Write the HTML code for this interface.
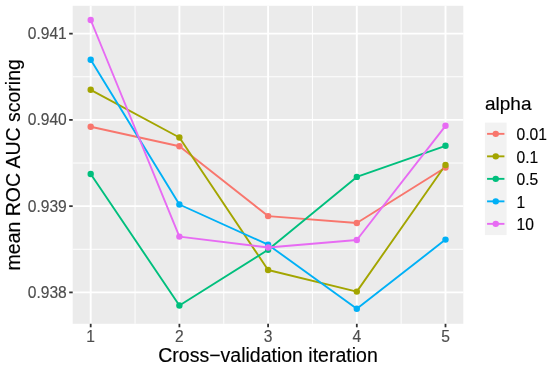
<!DOCTYPE html>
<html><head><meta charset="utf-8"><title>ROC AUC plot</title>
<style>
html,body{margin:0;padding:0;background:#fff;}
svg{display:block;}
text{font-family:"Liberation Sans",Arial,Helvetica,sans-serif;}
</style></head><body>
<svg width="550" height="369" viewBox="0 0 550 369">
<rect x="0" y="0" width="550" height="369" fill="#FFFFFF"/>
<rect x="72.7" y="5.8" width="390.6" height="318" fill="#EBEBEB"/>
<g stroke="#FFFFFF" stroke-width="0.95" fill="none">
<line x1="72.7" y1="76.78" x2="463.3" y2="76.78"/>
<line x1="72.7" y1="163.03" x2="463.3" y2="163.03"/>
<line x1="72.7" y1="249.28" x2="463.3" y2="249.28"/>
<line x1="135.05" y1="5.8" x2="135.05" y2="323.8"/>
<line x1="223.75" y1="5.8" x2="223.75" y2="323.8"/>
<line x1="312.45" y1="5.8" x2="312.45" y2="323.8"/>
<line x1="401.15" y1="5.8" x2="401.15" y2="323.8"/>
</g>
<g stroke="#FFFFFF" stroke-width="1.9" fill="none">
<line x1="72.7" y1="33.65" x2="463.3" y2="33.65"/>
<line x1="72.7" y1="119.9" x2="463.3" y2="119.9"/>
<line x1="72.7" y1="206.15" x2="463.3" y2="206.15"/>
<line x1="72.7" y1="292.4" x2="463.3" y2="292.4"/>
<line x1="90.7" y1="5.8" x2="90.7" y2="323.8"/>
<line x1="179.4" y1="5.8" x2="179.4" y2="323.8"/>
<line x1="268.1" y1="5.8" x2="268.1" y2="323.8"/>
<line x1="356.8" y1="5.8" x2="356.8" y2="323.8"/>
<line x1="445.5" y1="5.8" x2="445.5" y2="323.8"/>
</g>
<polyline points="90.7,126.8 179.4,146.2 268.1,216.1 356.8,223 445.5,167.5" fill="none" stroke="#F8766D" stroke-width="1.9" stroke-linejoin="round" stroke-linecap="butt"/>
<polyline points="90.7,89.8 179.4,137.5 268.1,270 356.8,291.6 445.5,165" fill="none" stroke="#A3A500" stroke-width="1.9" stroke-linejoin="round" stroke-linecap="butt"/>
<polyline points="90.7,174 179.4,305.5 268.1,249.8 356.8,176.9 445.5,145.8" fill="none" stroke="#00BF7D" stroke-width="1.9" stroke-linejoin="round" stroke-linecap="butt"/>
<polyline points="90.7,59.8 179.4,204.5 268.1,244.7 356.8,308.8 445.5,239.6" fill="none" stroke="#00B0F6" stroke-width="1.9" stroke-linejoin="round" stroke-linecap="butt"/>
<polyline points="90.7,20 179.4,236.6 268.1,247.5 356.8,240 445.5,125.8" fill="none" stroke="#E76BF3" stroke-width="1.9" stroke-linejoin="round" stroke-linecap="butt"/>
<circle cx="90.7" cy="126.8" r="3.2" fill="#F8766D"/>
<circle cx="90.7" cy="89.8" r="3.2" fill="#A3A500"/>
<circle cx="90.7" cy="174" r="3.2" fill="#00BF7D"/>
<circle cx="90.7" cy="59.8" r="3.2" fill="#00B0F6"/>
<circle cx="90.7" cy="20" r="3.2" fill="#E76BF3"/>
<circle cx="179.4" cy="146.2" r="3.2" fill="#F8766D"/>
<circle cx="179.4" cy="137.5" r="3.2" fill="#A3A500"/>
<circle cx="179.4" cy="305.5" r="3.2" fill="#00BF7D"/>
<circle cx="179.4" cy="204.5" r="3.2" fill="#00B0F6"/>
<circle cx="179.4" cy="236.6" r="3.2" fill="#E76BF3"/>
<circle cx="268.1" cy="216.1" r="3.2" fill="#F8766D"/>
<circle cx="268.1" cy="270" r="3.2" fill="#A3A500"/>
<circle cx="268.1" cy="249.8" r="3.2" fill="#00BF7D"/>
<circle cx="268.1" cy="244.7" r="3.2" fill="#00B0F6"/>
<circle cx="268.1" cy="247.5" r="3.2" fill="#E76BF3"/>
<circle cx="356.8" cy="223" r="3.2" fill="#F8766D"/>
<circle cx="356.8" cy="291.6" r="3.2" fill="#A3A500"/>
<circle cx="356.8" cy="176.9" r="3.2" fill="#00BF7D"/>
<circle cx="356.8" cy="308.8" r="3.2" fill="#00B0F6"/>
<circle cx="356.8" cy="240" r="3.2" fill="#E76BF3"/>
<circle cx="445.5" cy="167.5" r="3.2" fill="#F8766D"/>
<circle cx="445.5" cy="165" r="3.2" fill="#A3A500"/>
<circle cx="445.5" cy="145.8" r="3.2" fill="#00BF7D"/>
<circle cx="445.5" cy="239.6" r="3.2" fill="#00B0F6"/>
<circle cx="445.5" cy="125.8" r="3.2" fill="#E76BF3"/>
<g stroke="#333333" stroke-width="1.8">
<line x1="69.2" y1="33.65" x2="72.7" y2="33.65"/>
<line x1="69.2" y1="119.9" x2="72.7" y2="119.9"/>
<line x1="69.2" y1="206.15" x2="72.7" y2="206.15"/>
<line x1="69.2" y1="292.4" x2="72.7" y2="292.4"/>
<line x1="90.7" y1="323.8" x2="90.7" y2="327.3"/>
<line x1="179.4" y1="323.8" x2="179.4" y2="327.3"/>
<line x1="268.1" y1="323.8" x2="268.1" y2="327.3"/>
<line x1="356.8" y1="323.8" x2="356.8" y2="327.3"/>
<line x1="445.5" y1="323.8" x2="445.5" y2="327.3"/>
</g>
<g fill="#4D4D4D" stroke="#4D4D4D" stroke-width="0.15" font-size="15.6">
<text x="66.8" y="39.23" text-anchor="end">0.941</text>
<text x="66.8" y="125.48" text-anchor="end">0.940</text>
<text x="66.8" y="211.73" text-anchor="end">0.939</text>
<text x="66.8" y="297.98" text-anchor="end">0.938</text>
<text x="90.7" y="341.6" text-anchor="middle">1</text>
<text x="179.4" y="341.6" text-anchor="middle">2</text>
<text x="268.1" y="341.6" text-anchor="middle">3</text>
<text x="356.8" y="341.6" text-anchor="middle">4</text>
<text x="445.5" y="341.6" text-anchor="middle">5</text>
</g>
<g fill="#000000" stroke="#000000" stroke-width="0.15">
<text x="268" y="361.5" font-size="19.5" text-anchor="middle">Cross−validation iteration</text>
<text transform="translate(20,164.8) rotate(-90)" font-size="19.5" text-anchor="middle">mean ROC AUC scoring</text>
<text x="485" y="110.3" font-size="19">alpha</text>
</g>
<rect x="484.9" y="122.6" width="21.7" height="112.5" fill="#F2F2F2"/>
<line x1="487.07" y1="133.85" x2="504.43" y2="133.85" stroke="#F8766D" stroke-width="1.9"/>
<circle cx="495.75" cy="133.85" r="3.2" fill="#F8766D"/>
<line x1="487.07" y1="156.35" x2="504.43" y2="156.35" stroke="#A3A500" stroke-width="1.9"/>
<circle cx="495.75" cy="156.35" r="3.2" fill="#A3A500"/>
<line x1="487.07" y1="178.85" x2="504.43" y2="178.85" stroke="#00BF7D" stroke-width="1.9"/>
<circle cx="495.75" cy="178.85" r="3.2" fill="#00BF7D"/>
<line x1="487.07" y1="201.35" x2="504.43" y2="201.35" stroke="#00B0F6" stroke-width="1.9"/>
<circle cx="495.75" cy="201.35" r="3.2" fill="#00B0F6"/>
<line x1="487.07" y1="223.85" x2="504.43" y2="223.85" stroke="#E76BF3" stroke-width="1.9"/>
<circle cx="495.75" cy="223.85" r="3.2" fill="#E76BF3"/>
<g fill="#000000" stroke="#000000" stroke-width="0.15" font-size="15.6">
<text x="516.6" y="140.13">0.01</text>
<text x="516.6" y="162.63">0.1</text>
<text x="516.6" y="185.13">0.5</text>
<text x="516.6" y="207.63">1</text>
<text x="516.6" y="230.13">10</text>
</g>
</svg>
</body></html>
